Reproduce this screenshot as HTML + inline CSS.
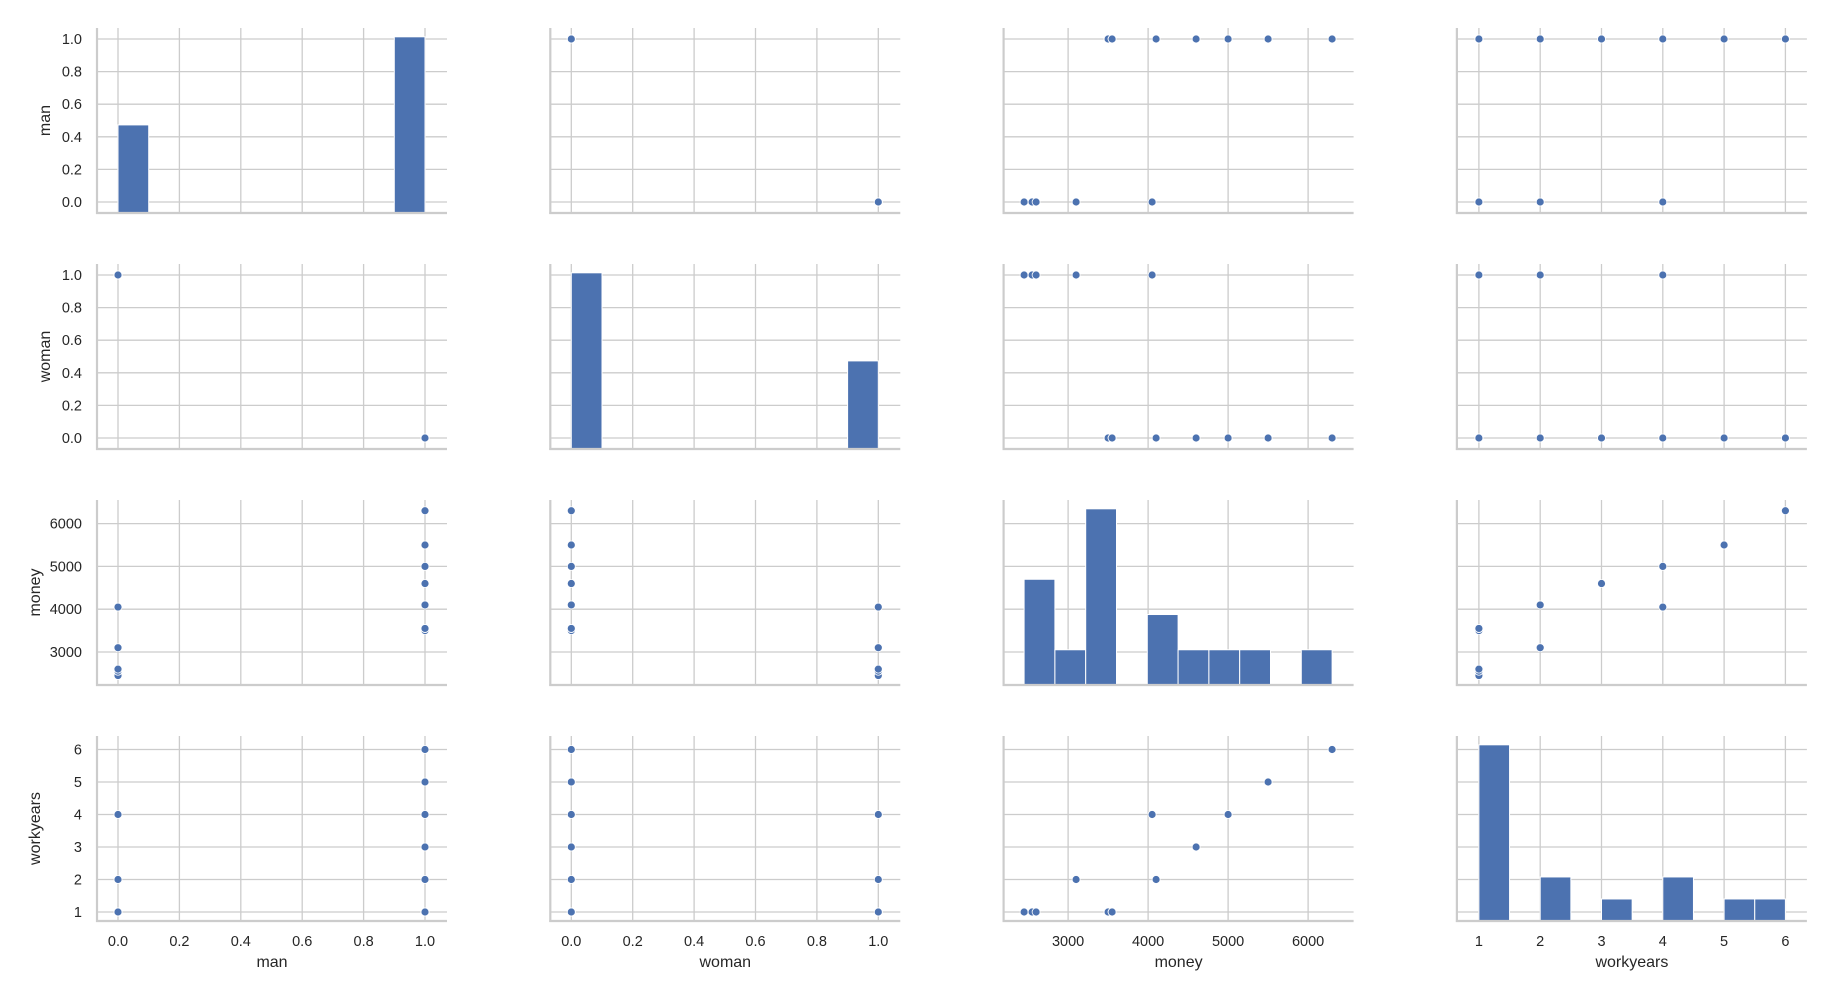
<!DOCTYPE html>
<html><head><meta charset="utf-8"><style>
html,body{margin:0;padding:0;background:#fff;}
svg{display:block;font-family:"Liberation Sans",Arial,sans-serif;}
</style></head><body>
<svg id="chart" width="1842" height="983" viewBox="0 0 1842 983" xmlns="http://www.w3.org/2000/svg"></svg>
<script>
// ---- data (15 rows) ----
const varNames = ["man","woman","money","workyears"];
const man = [0,0,0,0,0,1,1,1,1,1,1,1,1,1,1];
const woman = [1,1,1,1,1,0,0,0,0,0,0,0,0,0,0];
const money = [2450,2550,2600,3100,4050,3500,3500,3500,3550,3550,4100,4600,5000,5500,6300];
const workyears = [1,1,1,2,4,1,1,1,1,1,2,3,4,5,6];
const binaryTicks = [0,0.2,0.4,0.6,0.8,1.0];
const binaryTickLabels = ["0.0","0.2","0.4","0.6","0.8","1.0"];
const moneyTicks = [3000,4000,5000,6000];
const moneyTickLabels = ["3000","4000","5000","6000"];
const yearTicks = [1,2,3,4,5,6];
const yearTickLabels = ["1","2","3","4","5","6"];

const cols = [man, woman, money, workyears];
const ticks = [binaryTicks, binaryTicks, moneyTicks, yearTicks];
const tickLabels = [binaryTickLabels, binaryTickLabels, moneyTickLabels, yearTickLabels];

// ---- layout ----
const NS = "http://www.w3.org/2000/svg";
const svg = document.getElementById("chart");
const COLX = 453.3, ROWY = 236, AXW = 350, AXH = 185, X0 = 97, Y0 = 28;
const xAnch = [[0,21,1,328],[0,21,1,328],[3000,64.5,6000,304.5],[1,22,6,328.5]];
const yAnch = [[0,174,1,11],[0,174,1,11],[3000,152,6000,23.6],[1,176,6,13.5]];
const ylabX = [50,50,40,40];
function xs(k, v){ const a=xAnch[k]; return X0 + COLX*k + a[1] + (v-a[0])*(a[3]-a[1])/(a[2]-a[0]); }
function ys(k, v){ const a=yAnch[k]; return Y0 + ROWY*k + a[1] + (v-a[0])*(a[3]-a[1])/(a[2]-a[0]); }

function mk(tag, attrs, parent){ const e=document.createElementNS(NS,tag); for(const k in attrs) e.setAttribute(k,attrs[k]); (parent||svg).appendChild(e); return e; }

const BLUE = "#4c72b0", GRID = "#cccccc", TXT = "#262626";

for (let r=0;r<4;r++){
  for (let c=0;c<4;c++){
    const left = X0 + COLX*c, top = Y0 + ROWY*r;
    const g = mk("g",{});
    
    
    ticks[c].forEach(t=>{ const x=xs(c,t); const l=mk("line",{x1:x,x2:x,y1:top,y2:top+AXH,stroke:GRID,"stroke-width":1.3},g);
        });
    ticks[r].forEach(t=>{ const y=ys(r,t); const l=mk("line",{x1:left,x2:left+AXW,y1:y,y2:y,stroke:GRID,"stroke-width":1.3},g);
        });
    if (r===c){
      const d = cols[c]; const mn=Math.min(...d), mx=Math.max(...d); const w=(mx-mn)/10;
      const counts = new Array(10).fill(0);
      d.forEach(v=>{ let i=Math.floor((v-mn)/w); if(i>=10) i=9; counts[i]++; });
      const maxC = Math.max(...counts); const pxPer = AXH/(maxC*1.05);
      counts.forEach((n,i)=>{ if(!n) return;
        const x1=xs(c,mn+i*w), x2=xs(c,mn+(i+1)*w);
        const b=mk("rect",{x:x1,y:top+AXH-n*pxPer,width:x2-x1,height:n*pxPer,fill:BLUE,stroke:"#fff","stroke-width":1},g);
          });
    } else {
      const dx=cols[c], dy=cols[r];
      for(let i=0;i<dx.length;i++){
        const p=mk("circle",{cx:xs(c,dx[i]),cy:ys(r,dy[i]),r:4,fill:BLUE,stroke:"#fff","stroke-width":0.8},g);
         
      }
    }
    const sl=mk("line",{x1:left,x2:left,y1:top,y2:top+AXH+1,stroke:GRID,"stroke-width":2.2},g);
     
    const sb=mk("line",{x1:left-1,x2:left+AXW,y1:top+AXH,y2:top+AXH,stroke:GRID,"stroke-width":2.2},g);
     
    if (c===0){
      ticks[r].forEach((t,i)=>{ const tx=mk("text",{x:left-15,y:ys(r,t)+5,"text-anchor":"end","font-size":"14.5px",fill:TXT},g);
        tx.textContent=tickLabels[r][i];   });
      const cy = top+AXH/2;
      const yl=mk("text",{x:0,y:0,transform:`translate(${ylabX[r]} ${cy}) rotate(-90)`,"text-anchor":"middle","font-size":"16px",fill:TXT},g);
      yl.textContent=varNames[r];  
    }
    if (r===3){
      ticks[c].forEach((t,i)=>{ const tx=mk("text",{x:xs(c,t),y:top+AXH+25,"text-anchor":"middle","font-size":"14.5px",fill:TXT},g);
        tx.textContent=tickLabels[c][i];   });
      const xl=mk("text",{x:left+AXW/2,y:top+AXH+46,"text-anchor":"middle","font-size":"16px",fill:TXT},g);
      xl.textContent=varNames[c];  
    }
  }
}
</script>
</body></html>
